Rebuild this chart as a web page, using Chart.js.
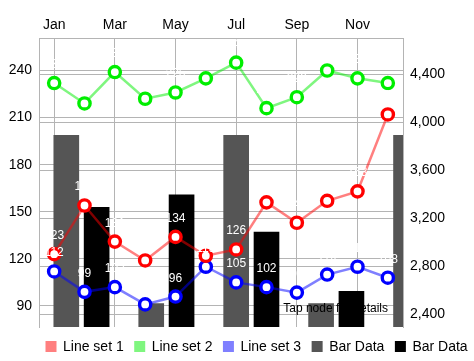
<!DOCTYPE html>
<html>
<head>
<meta charset="utf-8">
<script src="https://cdn.jsdelivr.net/npm/chart.js@4/dist/chart.umd.min.js"></script>
<style>
  html, body { margin: 0; padding: 0; background: #fff; }
  #wrap { width: 474px; height: 361px; position: relative; }
</style>
</head>
<body>
<div id="wrap"><canvas id="chart"></canvas></div>
<script>
'use strict';

// ── data ─────────────────────────────────────────────────────────────────────

const MONTHS      = ['Jan', 'Feb', 'Mar', 'Apr', 'May', 'Jun', 'Jul', 'Aug', 'Sep', 'Oct', 'Nov', 'Dec'];
const MONTH_TICKS = [0, 2, 4, 6, 8, 10];

const LINE_SET_1 = [123, 154, 131, 119, 134, 122, 126, 156, 143, 157, 163, 212];
const LINE_SET_2 = [232, 219, 239, 222, 226, 235, 245, 216, 223, 240, 235, 232];
const LINE_SET_3 = [112, 99, 102, 91, 96, 115, 105, 102, 98.5, 110, 115, 108];

// bar positions are month indices (grouped bars sit between months)
const BAR_X_1    = [0.4, 3.2, 6.0, 8.8, 11.6];
const BAR_DATA_1 = [3890, 2490, 3890, 2490, 3890];
const BAR_X_2    = [1.4, 4.2, 7.0, 9.8];
const BAR_DATA_2 = [3290, 3395, 3085, 2590];

const LEFT_TICKS  = [90, 120, 150, 180, 210, 240];
const RIGHT_TICKS = [2400, 2800, 3200, 3600, 4000, 4400];

const LABELS      = ['Line set 1', 'Line set 2', 'Line set 3', 'Bar Data', 'Bar Data'];
const DESCRIPTION = 'Tap node for details';

// ── style ────────────────────────────────────────────────────────────────────

const FONT = "'Liberation Sans', Arial, Helvetica, sans-serif";
const GRID = '#b4b4b4';

Chart.defaults.font.family = FONT;
Chart.defaults.font.size = 14;
Chart.defaults.color = '#000';

function lineSet(label, values, lineColor, pointColor) {
  return {
    type: 'line', label, order: 1,
    data: values.map((y, i) => ({ x: i, y })),
    xAxisID: 'x', yAxisID: 'yL',
    borderColor: lineColor, backgroundColor: lineColor, borderWidth: 2.5,
    pointRadius: 5.6, pointBorderWidth: 3.4,
    pointBorderColor: pointColor, pointBackgroundColor: '#fff',
    tension: 0, fill: false,
  };
}

function barSet(label, xs, values, color) {
  return {
    type: 'bar', label, order: 2,
    data: xs.map((x, i) => ({ x, y: values[i] })),
    xAxisID: 'x', yAxisID: 'yR',
    backgroundColor: color, borderWidth: 0,
    barThickness: 25, grouped: false,
  };
}

// ── plugins ──────────────────────────────────────────────────────────────────

const overlay = {
  id: 'overlay',
  afterDatasetsDraw(chart) {
    const ctx = chart.ctx;
    const area = chart.chartArea;
    ctx.save();
    // white value labels over the line points
    ctx.font = '12px ' + FONT;
    ctx.fillStyle = '#fff';
    ctx.textAlign = 'center';
    ctx.textBaseline = 'alphabetic';
    chart.data.datasets.forEach((ds, i) => {
      if (ds.type !== 'line') return;
      chart.getDatasetMeta(i).data.forEach((pt, j) => {
        ctx.fillText(String(Math.round(ds.data[j].y)), pt.x, pt.y - 15);
      });
    });
    // description, bottom right of the plot
    ctx.fillStyle = '#000';
    ctx.textAlign = 'right';
    ctx.fillText(DESCRIPTION, area.right - 15, area.bottom - 15);
    ctx.restore();
  },
  afterDraw(chart) {
    const ctx = chart.ctx;
    ctx.save();
    ctx.font = '14px ' + FONT;
    ctx.textBaseline = 'middle';
    ctx.textAlign = 'left';
    let x = 45.5;
    const y = 346.5;
    chart.data.datasets.forEach(ds => {
      ctx.fillStyle = ds.type === 'line' ? ds.borderColor : ds.backgroundColor;
      ctx.fillRect(x, y - 5.5, 11, 11);
      ctx.fillStyle = '#000';
      ctx.fillText(ds.label, x + 17.5, y + 0.5);
      x += 17.5 + ctx.measureText(ds.label).width + 10.5;
    });
    ctx.restore();
  },
};

// ── chart ────────────────────────────────────────────────────────────────────

new Chart(document.getElementById('chart'), {
  type: 'line',
  data: {
    datasets: [
      lineSet(LABELS[0], LINE_SET_1, 'rgba(255,0,0,0.5)', '#ff0000'),
      lineSet(LABELS[1], LINE_SET_2, 'rgba(0,238,0,0.5)', '#00ee00'),
      lineSet(LABELS[2], LINE_SET_3, 'rgba(0,0,255,0.5)', '#0000ff'),
      barSet(LABELS[3], BAR_X_1, BAR_DATA_1, '#555555'),
      barSet(LABELS[4], BAR_X_2, BAR_DATA_2, '#000000'),
    ],
  },
  options: {
    responsive: true, maintainAspectRatio: false, animation: false,
    layout: { padding: { left: 0, right: 0, top: 0, bottom: 34 } },
    plugins: { legend: { display: false }, tooltip: { enabled: false } },
    scales: {
      x: {
        type: 'linear', position: 'top', min: -0.5, max: 11.5, offset: false,
        afterBuildTicks: s => { s.ticks = MONTH_TICKS.map(v => ({ value: v })); },
        afterFit: s => { s.height = 38; },
        ticks: { callback: v => MONTHS[v], padding: 4, autoSkip: false, maxRotation: 0 },
        grid: { color: GRID, drawTicks: false, offset: false },
        border: { color: GRID },
      },
      yL: {
        type: 'linear', position: 'left', min: 76.6, max: 260.7,
        afterBuildTicks: s => { s.ticks = LEFT_TICKS.map(v => ({ value: v })); },
        afterFit: s => { s.width = 39; },
        ticks: { padding: 7 },
        grid: { color: GRID, drawTicks: false },
        border: { color: GRID },
      },
      yR: {
        type: 'linear', position: 'right', min: 2294, max: 4700,
        afterBuildTicks: s => { s.ticks = RIGHT_TICKS.map(v => ({ value: v })); },
        afterFit: s => { s.width = 71; },
        ticks: { padding: 7, callback: v => v.toLocaleString('en-US') },
        grid: { color: GRID, drawTicks: false },
        border: { color: GRID },
      },
    },
  },
  plugins: [overlay],
});
</script>
</body>
</html>
